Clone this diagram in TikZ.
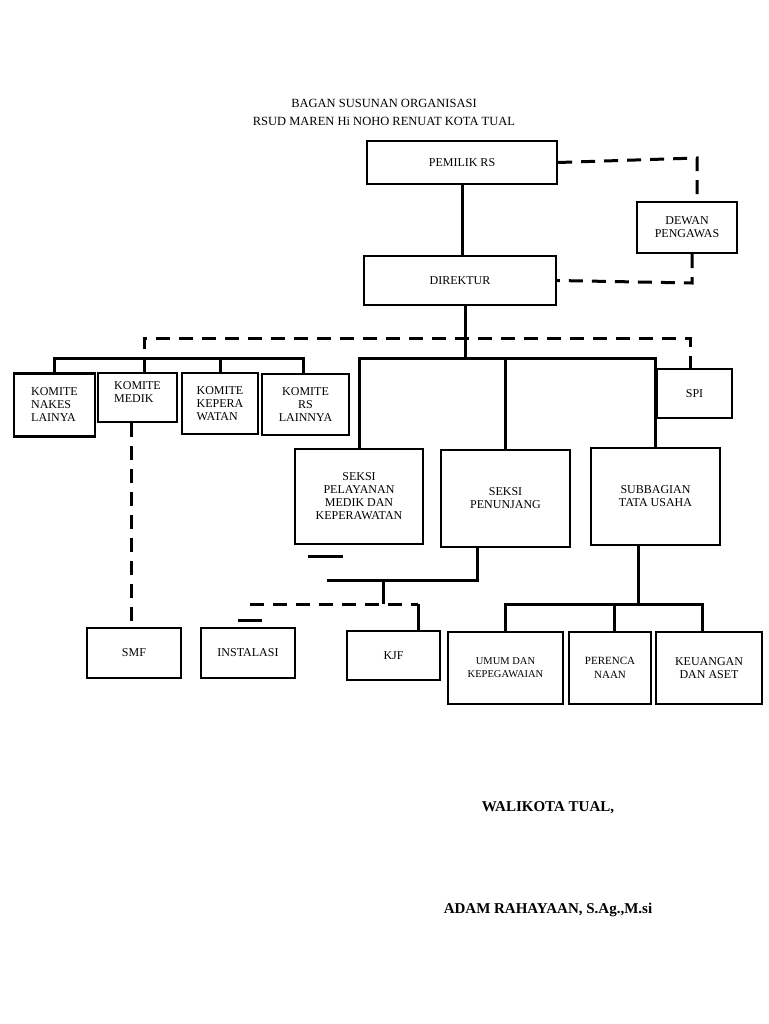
\documentclass[tikz,border=0pt]{standalone}
\usepackage{fontspec}
\setmainfont{Liberation Serif}
\usetikzlibrary{positioning}
\begin{document}
\begin{tikzpicture}[x=1pt,y=-1pt,line width=3pt]
\useasboundingbox (0,0) rectangle (768,1024);
\tikzset{box/.style={rectangle,draw=black,line width=2.4pt,inner sep=1pt,align=center,font=\fontsize{12}{13}\selectfont},
    coord/.style={dash pattern=on 14pt off 9pt}}
\begin{scope}[every node/.style={box}]
    \node (pemilik) at (462,162.5) [minimum width=190pt,minimum height=43pt] {PEMILIK RS};
    \node (dewan) at (687,227.5) [minimum width=100pt,minimum height=51pt] {DEWAN\\PENGAWAS};
    \node (direktur) at (460,280.5) [minimum width=192pt,minimum height=49pt] {DIREKTUR};

    \node (nakes) at (54.5,405) [minimum width=81pt,minimum height=63pt,align=left] {KOMITE\\NAKES\\LAINYA};
    \node (medik) at (137.5,397.5) [minimum width=79pt,minimum height=49pt,align=left] {KOMITE\\MEDIK\\[-2pt]};
    \node (kepera) at (220,403.5) [minimum width=76pt,minimum height=61pt,align=left] {KOMITE\\KEPERA\\WATAN};
    \node (rslain) at (305.5,404.5) [minimum width=87pt,minimum height=61pt] {KOMITE\\RS\\LAINNYA};
    \node (spi) at (694.5,393.5) [minimum width=75pt,minimum height=49pt] {SPI};

    \node (pelayanan) at (359,496.5) [minimum width=128pt,minimum height=95pt] {SEKSI\\PELAYANAN\\MEDIK DAN\\KEPERAWATAN};
    \node (penunjang) at (505.5,498.5) [minimum width=129pt,minimum height=97pt] {SEKSI\\PENUNJANG};
    \node (tatausaha) at (655.5,496.5) [minimum width=129pt,minimum height=97pt] {SUBBAGIAN\\TATA USAHA};

    \node (smf) at (134,653) [minimum width=94pt,minimum height=50pt] {SMF};
    \node (instalasi) at (248,653) [minimum width=94pt,minimum height=50pt] {INSTALASI};
    \node (kjf) at (393.5,655.5) [minimum width=93pt,minimum height=49pt] {KJF};
    \node (umum) at (505.5,668) [minimum width=115pt,minimum height=72pt,font=\fontsize{10.5}{13}\selectfont] {UMUM DAN\\KEPEGAWAIAN};
    \node (perenca) at (610,668) [minimum width=82pt,minimum height=72pt,font=\fontsize{11}{14}\selectfont] {PERENCA\\NAAN};
    \node (keuangan) at (709,668) [minimum width=106pt,minimum height=72pt] {KEUANGAN\\DAN ASET};
\end{scope}

\begin{scope}[every node/.style={font=\fontsize{12.5}{18}\selectfont,align=center}]
    \node (judul) at (384,112) {BAGAN SUSUNAN ORGANISASI\\RSUD MAREN Hi NOHO RENUAT KOTA TUAL};
    \node (walikota) at (548,808) [font=\fontsize{15}{18}\selectfont\bfseries] {WALIKOTA TUAL,};
    \node (adam) at (548,910) [font=\fontsize{15}{18}\selectfont\bfseries] {ADAM RAHAYAAN, S.Ag.,M.si};
\end{scope}

% garis komando
\coordinate (bus) at (465,358);
\draw (pemilik) -- (direktur.north -| pemilik);
\draw (direktur.south -| bus) -- (bus);
\draw (pelayanan.north) |- (bus) -| (tatausaha.north);
\draw (penunjang.north) -- (penunjang.north |- bus);
\draw (nakes.north) |- (303,358) -- (rslain.north -| 303,0);
\draw (kepera.north) -- (kepera.north |- 0,358);
\draw (penunjang.south -| 477,0) |- (327,580);
\coordinate (kjfbus) at (383,604);
\draw (383,580) -- (kjfbus);
\draw (308,556) -- (343,556);
\draw (238,620) -- (262,620);
\draw (kjf.north -| 418,0) -- (418,604);
\draw (tatausaha.south -| 638,0) -- (638,604);
\draw (umum.north) |- (702,604) -- (keuangan.north -| 702,0);
\draw (perenca.north -| 614,0) -- (614,604);

% garis koordinasi
\draw[coord] (pemilik.east) -- (697,158) -- (dewan.north -| 697,0);
\draw[coord] (dewan.south -| 692,0) -- (692,283) -- (direktur.east);
\draw[coord] (medik.north -| 144,0) |- (690,338) -- (spi.north -| 690,0);
\draw[coord] (medik.south -| 131,0) -- (smf.north -| 131,0);
\draw[coord] (250,604) -- (418,604);
\end{tikzpicture}
\end{document}
